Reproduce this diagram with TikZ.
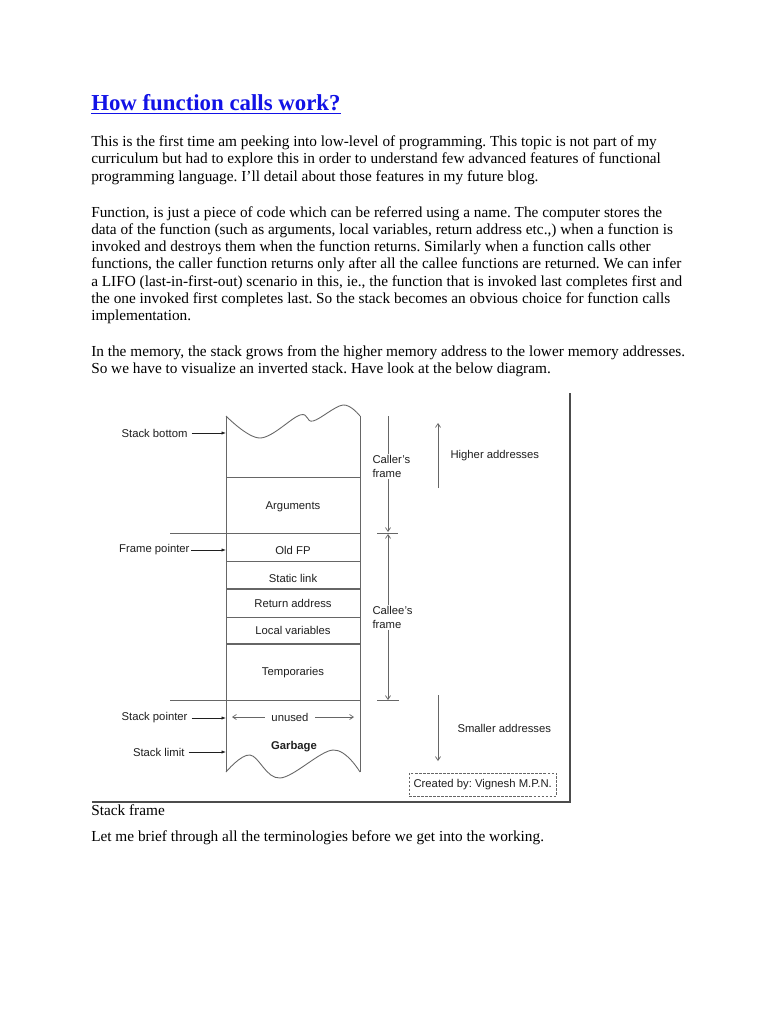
\documentclass[tikz,border=0pt]{standalone}
\usepackage{fontspec}
\setmainfont{Liberation Serif}
\setsansfont{Liberation Sans}
\usepackage{tikz}
\usetikzlibrary{arrows.meta}
\definecolor{titleblue}{RGB}{18,18,230}
\definecolor{diagline}{gray}{0.40}
\definecolor{diagtext}{gray}{0.12}
\definecolor{framegray}{gray}{0.30}
\frenchspacing

\begin{document}
\begin{tikzpicture}[x=0.796875pt, y=-0.796875pt,
		bodyline/.style={anchor=base west, inner sep=0pt, font=\fontsize{12.2}{13.8}\selectfont},
		diaglbl/.style={font=\sffamily\fontsize{9}{10.6}\selectfont, text=diagtext, inner sep=1pt},
		cell/.style={diagline, line width=0.7pt},
		ptr/.style={diagtext, line width=0.6pt, shorten <=2pt, -{Latex[length=3.5pt, width=2.6pt]}},
		dimarr/.style={diagline, line width=0.6pt, -{Straight Barb[length=3pt, width=4pt]}}]
	\useasboundingbox (0,0) rectangle (768,1024);
	\fill[white] (0,0) rectangle (768,1024);

	\def\bl{226}  % box left
	\def\br{360}  % box right
	\def\bc{293}  % box centre
	\def\dx{388}  % frame dimension line

	% Heading
	\node[bodyline, font=\bfseries\fontsize{18.2}{21}\selectfont, text=titleblue] (title) at (91,110) {How function calls work?};
	\draw[titleblue, line width=1.1pt] ([yshift=-2.8pt]title.base west) -- ([yshift=-2.8pt]title.base east);

	% First paragraph
	\node[bodyline] (p1a) at (91,146.5) {This is the first time am peeking into low-level of programming. This topic is not part of my};
	\node[bodyline] (p1b) at (91,163.8) {curriculum but had to explore this in order to understand few advanced features of functional};
	\node[bodyline] (p1c) at (91,181.1) {programming language. I’ll detail about those features in my future blog.};

	% Second paragraph
	\node[bodyline] (p2a) at (91,217) {Function, is just a piece of code which can be referred using a name. The computer stores the};
	\node[bodyline] (p2b) at (91,234.3) {data of the function (such as arguments, local variables, return address etc.,) when a function is};
	\node[bodyline] (p2c) at (91,251.6) {invoked and destroys them when the function returns. Similarly when a function calls other};
	\node[bodyline] (p2d) at (91,268.9) {functions, the caller function returns only after all the callee functions are returned. We can infer};
	\node[bodyline] (p2e) at (91,286.2) {a LIFO (last-in-first-out) scenario in this, ie., the function that is invoked last completes first and};
	\node[bodyline] (p2f) at (91,303.5) {the one invoked first completes last. So the stack becomes an obvious choice for function calls};
	\node[bodyline] (p2g) at (91,320.8) {implementation.};

	% Third paragraph
	\node[bodyline] (p3a) at (91,356) {In the memory, the stack grows from the higher memory address to the lower memory addresses.};
	\node[bodyline] (p3b) at (91,373.3) {So we have to visualize an inverted stack. Have look at the below diagram.};

	% Stack box, wavy ends
	\draw[cell] plot[smooth, tension=0.6] coordinates {(\bl,416) (260,438) (300,415) (313,421) (343,405) (\br,416)};
	\draw[cell] plot[smooth, tension=0.6] coordinates {(\bl,772) (250,755) (280,778) (333,750) (\br,772)};
	\draw[cell] (\bl,416) -- (\bl,772);
	\draw[cell] (\br,416) -- (\br,772);

	% Rows
	\draw[cell] (\bl,477) -- (\br,477);
	\draw[cell] (170,533) -- (\br,533);
	\draw[cell] (\bl,561) -- (\br,561);
	\draw[cell, line width=1pt] (\bl,589) -- (\br,589);
	\draw[cell] (\bl,617) -- (\br,617);
	\draw[cell, line width=1pt] (\bl,644) -- (\br,644);
	\draw[cell] (170,700) -- (\br,700);

	\node[diaglbl] (args) at (\bc,507) {Arguments};
	\node[diaglbl] (oldfp) at (\bc,550) {Old FP};
	\node[diaglbl] (slink) at (\bc,578) {Static link};
	\node[diaglbl] (raddr) at (\bc,603) {Return address};
	\node[diaglbl] (lvars) at (\bc,630) {Local variables};
	\node[diaglbl] (temps) at (\bc,673) {Temporaries};
	\node[diaglbl, inner xsep=5pt] (unused) at (290,717) {unused};
	\node[diaglbl, font=\sffamily\bfseries\fontsize{9}{10.6}\selectfont] (garbage) at (294,747) {Garbage};

	\coordinate (un l) at (232,717);
	\coordinate (un r) at (354,717);
	\draw[dimarr] (unused.west) -- (un l);
	\draw[dimarr] (unused.east) -- (un r);

	% Pointers on the left
	\node[diaglbl, anchor=east] (sbot) at (189,433) {Stack bottom};
	\node[diaglbl, anchor=east] (fptr) at (191,550) {Frame pointer};
	\node[diaglbl, anchor=east] (sptr) at (189,718) {Stack pointer};
	\node[diaglbl, anchor=east] (slim) at (186,752) {Stack limit};
	\coordinate (sbot p) at (\bl,433);
	\coordinate (fptr p) at (\bl,550);
	\coordinate (sptr p) at (\bl,718);
	\coordinate (slim p) at (\bl,752);
	\draw[ptr] (sbot) -- (sbot p);
	\draw[ptr, shorten <=0pt] (fptr) -- (fptr p);
	\draw[ptr] (sptr) -- (sptr p);
	\draw[ptr] (slim) -- (slim p);

	% Caller's and callee's frames
	\node[diaglbl, anchor=west, align=left] (caller) at (371,466.5) {Caller's\\frame};
	\node[diaglbl, anchor=west, align=left] (callee) at (371,617.5) {Callee's\\frame};
	\coordinate (cr top) at (\dx,416);
	\coordinate (cr bot) at (\dx,532);
	\coordinate (ce top) at (\dx,534);
	\coordinate (ce bot) at (\dx,700);
	\draw[cell, line width=0.6pt] (cr top) -- (caller.north -| cr top);
	\draw[dimarr] (caller.south -| cr top) -- (cr bot);
	\draw[dimarr] (callee.north -| ce top) -- (ce top);
	\draw[dimarr] (callee.south -| ce top) -- (ce bot);
	\draw[cell, line width=0.6pt] (377,533) -- (398,533);
	\draw[cell, line width=0.6pt] (377,700) -- (399,700);

	% Address direction
	\node[diaglbl, anchor=west] (higher) at (449,456) {Higher addresses};
	\node[diaglbl, anchor=west] (smaller) at (456,728) {Smaller addresses};
	\coordinate (hi a) at (438,488);
	\coordinate (hi b) at (438,423);
	\coordinate (lo a) at (438,695);
	\coordinate (lo b) at (438,761);
	\draw[dimarr] (hi a) -- (hi b);
	\draw[dimarr] (lo a) -- (lo b);

	\node[diaglbl, draw=diagline, dash pattern=on 2pt off 1.2pt, inner xsep=3.6pt, minimum height=18.3pt] (credit) at (482.7,784.7) {Created by: Vignesh M.P.N.};

	% Picture frame
	\draw[framegray, line width=1pt] (570,393) -- (570,802) -- (92,802);

	% Caption and closing line
	\node[bodyline] (cap) at (91,815) {Stack frame};
	\node[bodyline] (p4a) at (91,841) {Let me brief through all the terminologies before we get into the working.};
\end{tikzpicture}
\end{document}
